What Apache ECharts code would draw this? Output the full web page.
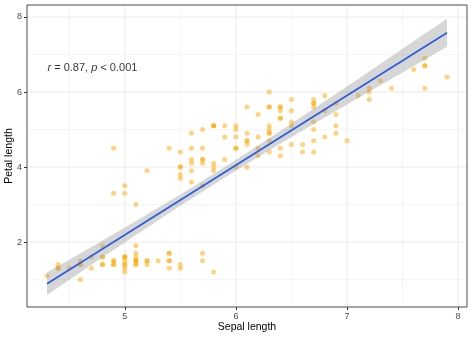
<!DOCTYPE html>
<html><head><meta charset="utf-8">
<script src="https://cdn.jsdelivr.net/npm/echarts@6/dist/echarts.min.js"></script>
<style>html,body{margin:0;padding:0;background:#fff}#c{width:474px;height:338px}</style>
</head><body><div id="c"></div>
<script>
const sepalLength = [
5.1,4.9,4.7,4.6,5.0,5.4,4.6,5.0,4.4,4.9,5.4,4.8,4.8,4.3,5.8,5.7,5.4,5.1,5.7,5.1,5.4,5.1,4.6,5.1,4.8,5.0,5.0,5.2,5.2,4.7,4.8,5.4,5.2,5.5,4.9,5.0,5.5,4.9,4.4,5.1,5.0,4.5,4.4,5.0,5.1,4.8,5.1,4.6,5.3,5.0,
7.0,6.4,6.9,5.5,6.5,5.7,6.3,4.9,6.6,5.2,5.0,5.9,6.0,6.1,5.6,6.7,5.6,5.8,6.2,5.6,5.9,6.1,6.3,6.1,6.4,6.6,6.8,6.7,6.0,5.7,5.5,5.5,5.8,6.0,5.4,6.0,6.7,6.3,5.6,5.5,5.5,6.1,5.8,5.0,5.6,5.7,5.7,6.2,5.1,5.7,
6.3,5.8,7.1,6.3,6.5,7.6,4.9,7.3,6.7,7.2,6.5,6.4,6.8,5.7,5.8,6.4,6.5,7.7,7.7,6.0,6.9,5.6,7.7,6.3,6.7,7.2,6.2,6.1,6.4,7.2,7.4,7.9,6.4,6.3,6.1,7.7,6.3,6.4,6.0,6.9,6.7,6.9,5.8,6.8,6.7,6.7,6.3,6.5,6.2,5.9];
const petalLength = [
1.4,1.4,1.3,1.5,1.4,1.7,1.4,1.5,1.4,1.5,1.5,1.6,1.4,1.1,1.2,1.5,1.3,1.4,1.7,1.5,1.7,1.5,1.0,1.7,1.9,1.6,1.6,1.5,1.4,1.6,1.6,1.5,1.5,1.4,1.5,1.2,1.3,1.4,1.3,1.5,1.3,1.3,1.3,1.6,1.9,1.4,1.6,1.4,1.5,1.4,
4.7,4.5,4.9,4.0,4.6,4.5,4.7,3.3,4.6,3.9,3.5,4.2,4.0,4.7,3.6,4.4,4.5,4.1,4.5,3.9,4.8,4.0,4.9,4.7,4.3,4.4,4.8,5.0,4.5,3.5,3.8,3.7,3.9,5.1,4.5,4.5,4.7,4.4,4.1,4.0,4.4,4.6,4.0,3.3,4.2,4.2,4.2,4.3,3.0,4.1,
6.0,5.1,5.9,5.6,5.8,6.6,4.5,6.3,5.8,6.1,5.1,5.3,5.5,5.0,5.1,5.3,5.5,6.7,6.9,5.0,5.7,4.9,6.7,4.9,5.7,6.0,4.8,4.9,5.6,5.8,6.1,6.4,5.6,5.1,5.6,6.1,5.6,5.5,4.8,5.4,5.6,5.1,5.1,5.9,5.7,5.2,5.0,5.2,5.4,5.1];

const xTicks = [5, 6, 7, 8];
const xMinor = [4.5, 5.5, 6.5, 7.5];
const yTicks = [2, 4, 6, 8];
const yMinor = [1, 3, 5, 7];

const fitX = [4.3, 7.9];
const fitY = [0.89, 7.58];

const bandX  = [4.3, 4.7, 5.1, 5.5, 5.9, 6.3, 6.7, 7.1, 7.5, 7.9];
const bandLo = [0.593, 1.394, 2.188, 2.968, 3.723, 4.446, 5.148, 5.838, 6.523, 7.204];
const bandHi = [1.187, 1.872, 2.565, 3.271, 4.004, 4.767, 5.552, 6.348, 7.151, 7.956];

const corrText = '{i|r} = 0.87, {i|p} < 0.001';
const corrPos = [4.3, 6.64];

const xMin = 4.12, xMax = 8.08, yMin = 0.27, yMax = 8.32;

function gridSeries(values, dir, width) {
  return {
    type: 'custom', silent: true, z: 1, animation: false,
    data: values.map(v => [v]),
    encode: dir === 'x' ? { x: 0 } : { y: 0 },
    renderItem: function (params, api) {
      const cs = params.coordSys;
      const v = api.value(0);
      let shape;
      if (dir === 'x') {
        const px = api.coord([v, yMin])[0];
        shape = { x1: px, y1: cs.y, x2: px, y2: cs.y + cs.height };
      } else {
        const py = api.coord([xMin, v])[1];
        shape = { x1: cs.x, y1: py, x2: cs.x + cs.width, y2: py };
      }
      return { type: 'line', shape: shape, style: { stroke: '#ebebeb', lineWidth: width } };
    }
  };
}

const chart = echarts.init(document.getElementById('c'), null, { renderer: 'canvas' });
const font = 'Liberation Sans, Arial, sans-serif';
chart.setOption({
  animation: false,
  backgroundColor: '#ffffff',
  textStyle: { fontFamily: font },
  grid: { left: 27, right: 7, top: 5, bottom: 31, show: true, borderColor: '#4d4d4d', borderWidth: 1, containLabel: false, outerBoundsMode: 'none', z: 3 },
  xAxis: {
    type: 'value', min: xMin, max: xMax,
    name: 'Sepal length', nameLocation: 'middle', nameGap: 15, nameMoveOverlap: false,
    nameTextStyle: { fontSize: 10.5, color: '#000', fontFamily: font },
    axisLine: { show: false },
    axisTick: { show: true, length: 3, customValues: xTicks, lineStyle: { color: '#333' } },
    axisLabel: { customValues: xTicks, margin: 5, fontSize: 9, color: '#4d4d4d', fontFamily: font },
    splitLine: { show: false }
  },
  yAxis: {
    type: 'value', min: yMin, max: yMax,
    name: 'Petal length', nameLocation: 'middle', nameGap: 12, nameMoveOverlap: false,
    nameTextStyle: { fontSize: 10.5, color: '#000', fontFamily: font },
    axisLine: { show: false },
    axisTick: { show: true, length: 3, customValues: yTicks, lineStyle: { color: '#333' } },
    axisLabel: { customValues: yTicks, margin: 5, fontSize: 9, color: '#4d4d4d', fontFamily: font },
    splitLine: { show: false }
  },
  series: [
    gridSeries(xMinor, 'x', 0.5),
    gridSeries(yMinor, 'y', 0.5),
    gridSeries(xTicks, 'x', 1),
    gridSeries(yTicks, 'y', 1),
    {
      type: 'scatter', z: 2, symbolSize: 5,
      data: sepalLength.map((x, i) => [x, petalLength[i]]),
      itemStyle: { color: 'rgba(255,165,0,0.62)' }
    },
    {
      type: 'custom', z: 4, silent: true,
      data: [[bandX[0], bandLo[0]]],
      renderItem: function (params, api) {
        const pts = [];
        for (let i = 0; i < bandX.length; i++) pts.push(api.coord([bandX[i], bandHi[i]]));
        for (let i = bandX.length - 1; i >= 0; i--) pts.push(api.coord([bandX[i], bandLo[i]]));
        return { type: 'polygon', shape: { points: pts }, style: { fill: 'rgba(153,153,153,0.4)' } };
      }
    },
    {
      type: 'line', z: 5, symbol: 'none',
      data: fitX.map((x, i) => [x, fitY[i]]),
      lineStyle: { color: '#2a5bdf', width: 1.6 }
    },
    {
      type: 'scatter', z: 6, symbolSize: 1, silent: true,
      data: [corrPos],
      itemStyle: { color: 'rgba(0,0,0,0)' },
      label: {
        show: true, position: 'right', distance: 0,
        formatter: corrText, fontSize: 11, color: '#000', fontFamily: font,
        rich: { i: { fontStyle: 'italic', fontSize: 11, color: '#000', fontFamily: font } }
      }
    }
  ]
});
</script></body></html>
